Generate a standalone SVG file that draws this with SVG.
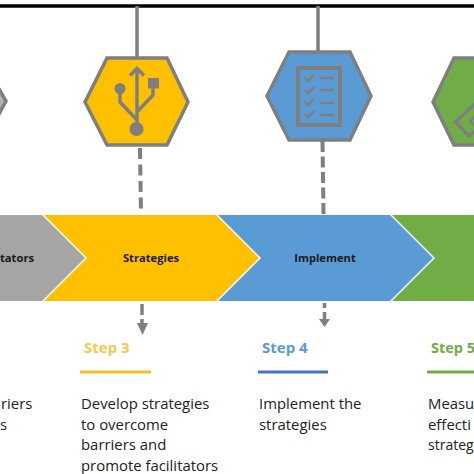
<svg xmlns="http://www.w3.org/2000/svg" width="474" height="474" viewBox="0 0 474 474">
<style>
.hex{stroke:#7f7f7f;stroke-width:3.500;stroke-linejoin:miter}
.ic{fill:none;stroke:#7f7f7f;stroke-width:3.500}
.thin{stroke-width:2.500}
.icf{fill:#7f7f7f}
.conn{stroke:#7f7f7f;stroke-width:3.500;fill:none}
.lab{font:bold 11.2px "Open Sans","Liberation Sans",sans-serif;fill:#1a1a1a;text-anchor:middle}
.step{font:bold 15px "Open Sans","Liberation Sans",sans-serif}
.body{font:14.900px "Open Sans","Liberation Sans",sans-serif;fill:#222}
</style>
<rect width="474" height="474" fill="#fff"/>
<g id="connectors">
<path d="M0 6H474" stroke="#000" stroke-width="3.500" fill="none"/>
<path class="conn" d="M137 6V58"/>
<path class="conn" d="M318 6V56"/>
<path class="conn" stroke-dasharray="11 5.500" d="M140 148L141 214" style="stroke-width:4"/>
<path class="conn" stroke-dasharray="11 4.500" d="M322.500 141L323.500 214" style="stroke-width:4"/>
<path class="conn" d="M142 304V315"/>
<path class="conn" d="M142 319V324"/>
<path d="M137 323H148L142.500 335Z" class="icf"/>
<path class="conn" d="M324.500 303V308"/>
<path class="conn" d="M324.500 312V320"/>
<path d="M319 319H330L324.500 327Z" class="icf"/>
</g>
<g id="arrow-facilitators">
<path d="M0 215H42L85 258L42 301H0Z" fill="#a5a5a5"/>
<text class="lab" x="0" y="262" style="text-anchor:start">tators</text>
</g>
<g id="arrow-strategies">
<path d="M44 215H216L259 258L216 301H44L87 258Z" fill="#ffc000"/>
<text class="lab" x="151" y="262">Strategies</text>
</g>
<g id="arrow-implement">
<path d="M218 215H390L433 258L390 301H218L261 258Z" fill="#5b9bd5"/>
<text class="lab" x="325" y="262">Implement</text>
</g>
<g id="arrow-measure">
<path d="M392 215H474V301H392L435 258Z" fill="#70ad47"/>
</g>
<g id="hex-left">
<path class="hex" d="M-10 89H-1L6 101L-1 114H-10Z" fill="#b3b3b3"/>
</g>
<g id="hex-usb">
<path class="hex" d="M107 58H167L188 102L167 145H107L85 102Z" fill="#ffc000"/>
<path class="ic" d="M137 69V124M137 120L120 102V90M137 112L153 95V84"/>
<path class="ic" d="M130 75.500L137 68.500L144 75.500"/>
<circle class="icf" cx="120" cy="88.500" r="5.500"/>
<rect class="icf" x="148" y="78" width="11" height="10.500"/>
<circle class="icf" cx="136.500" cy="129" r="7"/>
</g>
<g id="hex-checklist">
<path class="hex" d="M289 52H350L371 96L350 140H289L267 96Z" fill="#5b9bd5"/>
<rect x="298" y="68" width="42" height="57" fill="none" stroke="#7f7f7f" stroke-width="4"/>
<path class="ic thin" d="M305 78L308 81L314 75M305 90L308 93L314 87M305 102L308 105L314 99M305 114L308 117L314 111"/>
<path class="ic thin" d="M320 78H334M320 90H334M320 103H334M320 115H334"/>
</g>
<g id="hex-measure">
<path class="hex" d="M454 58H480V145H454L433 102Z" fill="#70ad47"/>
<path class="ic" d="M475 104L455.500 122L469 136L475 131"/>
<path class="ic thin" d="M475 116L470 121L475 126"/>
</g>
<g id="step-3">
<text class="step" x="84" y="353" fill="#f2c94c">Step 3</text>
<path d="M80 372H151" stroke="#f4bf2e" stroke-width="3"/>
<text class="body"><tspan x="81" y="409">Develop strategies</tspan><tspan x="81" y="430">to overcome</tspan><tspan x="81" y="450">barriers and</tspan><tspan x="81" y="471">promote facilitators</tspan></text>
</g>
<g id="step-2">
<text class="body"><tspan x="1" y="409">riers</tspan><tspan x="0" y="430">s</tspan></text>
</g>
<g id="step-4">
<text class="step" x="262" y="353" fill="#5b9bd5">Step 4</text>
<path d="M258 372H328" stroke="#4472c4" stroke-width="3"/>
<text class="body"><tspan x="259" y="409">Implement the</tspan><tspan x="259" y="430">strategies</tspan></text>
</g>
<g id="step-5">
<text class="step" x="431" y="353" fill="#70ad47" style="font-size:14.500px">Step 5</text>
<path d="M427 372H474" stroke="#70ad47" stroke-width="3"/>
<text class="body"><tspan x="428" y="409">Measu</tspan><tspan x="428" y="430">effecti</tspan><tspan x="428" y="450" style="font-size:14px">strateg</tspan></text>
</g>
</svg>
